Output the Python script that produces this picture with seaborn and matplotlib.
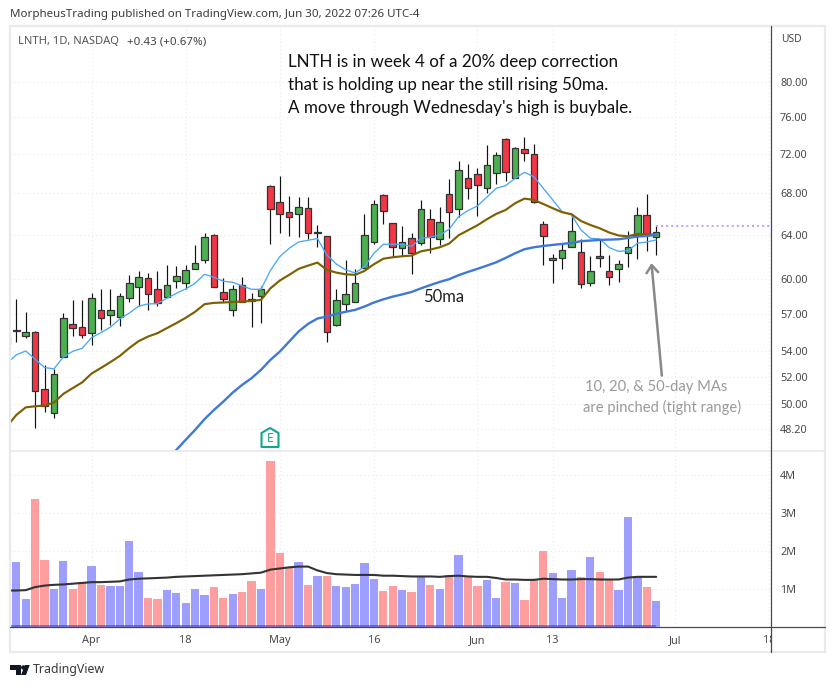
import numpy as np
import pandas as pd
import matplotlib
matplotlib.use("Agg")
import matplotlib.pyplot as plt
from matplotlib.lines import Line2D
from matplotlib.patches import Circle, Polygon, Rectangle
from matplotlib.transforms import Bbox, IdentityTransform
import seaborn as sns

# Daily sessions for LNTH; the first entry sits just off the left edge of the pane.
opens = [54.60, 55.57, 55.19, 55.51, 51.08, 49.32, 53.57, 56.16, 55.92, 55.43,
         57.32, 56.91, 56.74, 58.33, 59.27, 60.06, 59.10, 58.41, 59.80, 59.63,
         60.86, 61.66, 63.95, 58.83, 57.32, 59.45, 58.24, 58.49, 68.70, 67.11,
         66.14, 65.95, 66.53, 64.21, 63.86, 56.08, 57.83, 57.99, 60.95, 63.30,
         67.81, 65.08, 62.75, 63.67, 63.21, 65.46, 63.58, 67.91, 66.42, 69.49,
         69.90, 68.49, 70.01, 73.57, 69.56, 72.51, 71.98, 64.99, 61.66, 61.84,
         62.84, 62.38, 59.63, 62.02, 60.68, 60.86, 62.29, 63.95, 65.85, 63.77]
closes = [55.13, 55.68, 55.51, 50.93, 49.85, 52.21, 56.66, 55.89, 55.27, 58.33,
          56.66, 57.32, 58.49, 59.63, 60.15, 58.66, 57.91, 59.45, 60.24, 60.77,
          61.39, 63.77, 59.27, 58.30, 59.10, 58.05, 58.13, 59.10, 66.42, 65.95,
          65.66, 66.62, 64.14, 64.24, 55.51, 58.16, 58.66, 59.63, 63.95, 66.91,
          66.24, 62.84, 63.30, 62.29, 66.42, 63.77, 65.18, 66.14, 70.32, 68.49,
          68.80, 70.83, 71.87, 70.11, 72.62, 72.08, 67.11, 63.86, 61.84, 62.57,
          64.33, 59.54, 60.68, 61.84, 60.15, 61.30, 62.84, 65.85, 63.95, 64.24]
highs = [55.20, 58.25, 57.19, 55.62, 52.90, 52.59, 57.08, 58.17, 58.17, 58.75,
         59.10, 59.10, 58.75, 60.33, 60.68, 60.50, 60.68, 61.21, 61.12, 61.21,
         63.03, 64.14, 64.05, 60.06, 59.45, 60.15, 58.75, 59.36, 68.80, 69.70,
         67.71, 67.61, 67.61, 64.89, 63.86, 59.10, 61.66, 60.86, 65.95, 67.30,
         67.91, 65.08, 64.80, 64.14, 67.30, 66.42, 66.62, 69.39, 71.25, 70.94,
         70.52, 72.96, 72.19, 73.68, 72.73, 73.79, 73.07, 65.27, 62.20, 63.12,
         65.85, 63.58, 62.05, 63.58, 62.14, 61.66, 64.33, 66.62, 67.91, 64.89]
lows = [54.50, 54.76, 55.03, 48.23, 49.44, 48.96, 53.57, 55.24, 55.08, 54.52,
        55.70, 56.11, 56.05, 58.02, 57.66, 57.38, 57.66, 58.41, 59.21, 59.13,
        60.86, 61.45, 59.27, 58.05, 56.88, 58.05, 55.97, 56.30, 63.18, 64.21,
        63.93, 63.83, 63.58, 62.84, 54.76, 56.05, 57.24, 57.99, 60.95, 63.18,
        65.05, 61.93, 62.02, 60.47, 63.03, 62.35, 63.06, 63.74, 65.72, 67.47,
        65.82, 68.07, 68.93, 69.23, 69.49, 71.32, 67.01, 61.27, 59.68, 60.92,
        62.84, 59.24, 59.42, 61.09, 59.51, 59.77, 61.09, 61.75, 62.47, 62.17]
sma10 = [53.05, 53.70, 54.01, 53.37, 52.72, 52.62, 53.54, 53.98, 54.22, 55.08,
         55.48, 55.92, 56.60, 57.08, 57.66, 57.85, 57.88, 58.33, 58.75, 59.13,
         59.63, 60.41, 60.15, 59.80, 59.71, 59.39, 59.10, 59.10, 60.74, 61.99,
         62.75, 63.33, 63.49, 63.64, 62.14, 61.33, 60.80, 60.53, 61.09, 62.29,
         63.12, 63.12, 63.09, 62.93, 63.67, 63.77, 63.98, 64.52, 65.72, 66.30,
         66.75, 67.61, 68.49, 68.76, 69.49, 70.11, 69.66, 68.49, 67.34, 66.20,
         65.88, 64.46, 63.67, 63.61, 62.81, 62.47, 62.53, 63.21, 63.33, 63.52]
sma20 = [48.37, 49.19, 49.74, 49.82, 49.87, 50.09, 50.73, 51.16, 51.59, 52.26,
         52.69, 53.14, 53.62, 54.24, 54.79, 55.16, 55.43, 55.84, 56.25, 56.69,
         57.19, 57.83, 57.94, 57.97, 58.02, 58.05, 58.11, 58.19, 59.18, 59.86,
         60.36, 60.89, 61.18, 61.45, 60.80, 60.56, 60.41, 60.36, 60.71, 61.30,
         61.80, 61.93, 62.02, 62.08, 62.47, 62.63, 62.84, 63.18, 63.95, 64.42,
         64.89, 65.46, 65.98, 66.36, 67.01, 67.47, 67.34, 66.94, 66.53, 66.14,
         65.95, 65.30, 64.92, 64.61, 64.21, 63.93, 63.86, 64.08, 64.05, 63.99]
# The 50-day average only enters the price range in mid-April.
sma50 = [46.07, 46.74, 47.44, 48.13, 48.89, 49.55, 50.16, 50.83, 51.40, 51.91,
         52.54, 53.31, 53.96, 54.76, 55.57, 56.19, 56.63, 56.80, 57.02, 57.19,
         57.35, 57.63, 57.97, 58.24, 58.47, 58.66, 58.87, 59.18, 59.47, 59.74,
         59.98, 60.33, 60.62, 60.89, 61.18, 61.48, 61.87, 62.29, 62.66, 62.84,
         62.96, 63.06, 63.15, 63.24, 63.40, 63.46, 63.52, 63.55, 63.58, 63.70,
         63.83, 63.89, 63.99]
volume = [1.25, 1.72, 0.75, 3.38, 1.77, 1.01, 1.75, 1.01, 1.19, 1.61,
          1.11, 1.09, 1.09, 2.27, 1.46, 0.77, 0.75, 0.98, 0.90, 0.64,
          1.01, 0.85, 1.04, 0.77, 0.88, 0.93, 1.22, 1.01, 4.38, 1.96,
          1.59, 1.72, 1.11, 1.35, 1.35, 1.09, 1.04, 1.14, 1.69, 1.27,
          0.96, 1.09, 0.98, 0.93, 1.35, 1.11, 1.01, 1.38, 1.90, 1.35,
          1.09, 1.25, 0.77, 1.19, 1.17, 0.72, 1.25, 2.01, 1.43, 0.77,
          1.51, 1.32, 1.85, 1.46, 1.25, 0.98, 2.90, 1.35, 1.04, 0.69]
volume_ma = [0.96, 0.96, 0.97, 1.05, 1.09, 1.11, 1.12, 1.14, 1.16, 1.18,
             1.18, 1.19, 1.20, 1.25, 1.27, 1.28, 1.29, 1.30, 1.32, 1.33,
             1.34, 1.35, 1.36, 1.37, 1.38, 1.39, 1.41, 1.43, 1.51, 1.54,
             1.57, 1.59, 1.59, 1.49, 1.42, 1.39, 1.38, 1.37, 1.37, 1.37,
             1.35, 1.35, 1.34, 1.33, 1.33, 1.33, 1.32, 1.34, 1.35, 1.33,
             1.32, 1.32, 1.29, 1.25, 1.25, 1.24, 1.24, 1.27, 1.26, 1.25,
             1.25, 1.26, 1.26, 1.25, 1.25, 1.25, 1.30, 1.32, 1.32, 1.32]

price_ticks = [80, 76, 72, 68, 64, 60, 57, 54, 52, 50, 48.2]
volume_ticks = [1, 2, 3, 4]
volume_tick_labels = ["1M", "2M", "3M", "4M"]
date_ticks = [8, 18, 28, 38, 49, 57, 70, 80]
date_labels = ["Apr", "18", "May", "16", "Jun", "13", "Jul", "18"]
pending_level = 64.84
volume_floor = 0.06

W, H = 835, 688
UI_FONT = ["Noto Sans", "DejaVu Sans"]
NOTE_FONT = ["Lato", "DejaVu Sans"]
BORDER = "#e9e9f0"
AXIS = "#4a4a4a"
TICK_TEXT = "#4a4a4a"


def fx(px):
    return px / W


def fy(py):
    return 1 - py / H


sns.set_theme(style="white")
plt.rcParams["font.family"] = UI_FONT

sessions = np.arange(-1, len(opens) - 1)
o, c, h, l = map(np.array, (opens, closes, highs, lows))
rising = c >= o

fig = plt.figure(figsize=(W / 100, H / 100), dpi=100, facecolor="white")
ax_p = fig.add_axes([fx(10), fy(451), 761 / W, 425 / H])
ax_v = fig.add_axes([fx(10), fy(627), 761 / W, 176 / H], sharex=ax_p)

# Price pane: candles plus the three simple moving averages.
ax_p.set_yscale("log")
ax_p.vlines(sessions, l, h, color="#111111", linewidth=0.85, zorder=2)
ax_p.bar(sessions, np.abs(c - o), bottom=np.minimum(o, c), width=0.7,
         color=np.where(rising, "#4caf50", "#f23645"),
         edgecolor="#333333", linewidth=0.9, zorder=3)
sns.lineplot(x=sessions, y=sma10, ax=ax_p, color="#4aa8f5", linewidth=0.95,
             estimator=None, zorder=4)
sns.lineplot(x=sessions, y=sma20, ax=ax_p, color="#7f6000", linewidth=1.55,
             estimator=None, zorder=5)
sns.lineplot(x=sessions[-len(sma50):], y=sma50, ax=ax_p, color="#3f78d8",
             linewidth=1.7, estimator=None, zorder=6)
ax_p.hlines(pending_level, sessions[-1], 80.2, color="#d596ff", linewidth=1.4,
            linestyles=(0, (1, 1.6)), zorder=2)

ax_p.set_ylim(46.67, 86.81)
ax_p.set_yticks(price_ticks)
ax_p.set_yticklabels([f"{t:.2f}" for t in price_ticks])
ax_p.yaxis.set_minor_locator(matplotlib.ticker.NullLocator())
ax_p.yaxis.set_minor_formatter(matplotlib.ticker.NullFormatter())
ax_p.yaxis.tick_right()

ax_p.annotate("", xy=(67.5, 61.4), xytext=(68.6, 52.1), zorder=7,
              arrowprops=dict(arrowstyle="->,head_length=0.45,head_width=0.35",
                              color="#888888", lw=1.8, shrinkA=0, shrinkB=0))

# Volume pane: bars coloured by session direction, with their average on top.
frame = pd.DataFrame({
    "session": sessions,
    "volume": volume,
    "side": np.where(rising, "up", "down"),
})
sns.barplot(data=frame, x="session", y="volume", hue="side", ax=ax_v,
            palette={"up": "#9e9eff", "down": "#ff9e9e"}, native_scale=True,
            dodge=False, width=0.88, linewidth=0, saturation=1, legend=False,
            zorder=2)
ax_v.fill_between(sessions, 0, volume_floor, color="#5858c4", alpha=0.7,
                  linewidth=0, zorder=3)
sns.lineplot(x=sessions, y=volume_ma, ax=ax_v, color="#333333", linewidth=1.5,
             estimator=None, zorder=4)
ax_v.set_ylim(0, 176 / 38)
ax_v.set_yticks(volume_ticks)
ax_v.set_yticklabels(volume_tick_labels)
ax_v.yaxis.tick_right()
ax_v.set_xlabel("")
ax_v.set_ylabel("")

ax_v.set_xlim(-0.67, 80.2)
ax_v.set_xticks(date_ticks)
ax_v.set_xticklabels(date_labels)

for ax in (ax_p, ax_v):
    ax.set_facecolor("white")
    ax.grid(True, axis="both", color="#ebebf0", linestyle=(0, (1, 2.5)),
            linewidth=0.8, zorder=0)
    ax.set_axisbelow(True)
    for side in ax.spines.values():
        side.set_visible(False)
    ax.tick_params(axis="y", length=0, pad=6.5, labelsize=7.8,
                   labelcolor=TICK_TEXT)
ax_p.tick_params(axis="x", length=0, labelbottom=False)
ax_v.tick_params(axis="x", length=0, pad=6, labelsize=7.9, labelcolor=TICK_TEXT)

# The trailing date label is cut off where the price scale begins.
clip_area = Bbox([[0, 0], [771, H]])
for label in ax_v.get_xticklabels():
    label.set_clip_box(clip_area)
    label.set_clip_on(True)

# Frame and scale lines around the panes.
fig.add_artist(Rectangle((fx(10), fy(652)), 815 / W, 626 / H, fill=False,
                         edgecolor=BORDER, linewidth=1.6,
                         transform=fig.transFigure))
fig.add_artist(Line2D([fx(10), fx(825)], [fy(451), fy(451)], color=BORDER,
                      linewidth=1.3))
fig.add_artist(Line2D([fx(771), fx(771)], [fy(26), fy(652)], color=AXIS,
                      linewidth=0.9))
fig.add_artist(Line2D([fx(10), fx(825)], [fy(627), fy(627)], color=AXIS,
                      linewidth=0.9))

# Header and scale captions.
fig.text(fx(10), fy(15), "MorpheusTrading published on TradingView.com, Jun 30, 2022 07:26 UTC-4",
         fontsize=8.3, color="#3c3c3c", va="center", family=UI_FONT)
fig.text(fx(18), fy(42), "LNTH, 1D, NASDAQ", fontsize=8.05, color="#555555",
         va="center", family=UI_FONT)
fig.text(fx(127), fy(42), "+0.43 (+0.67%)", fontsize=8.3, color="#444444",
         va="center", family=UI_FONT)
fig.text(fx(781), fy(39), "USD", fontsize=7.4, color=TICK_TEXT, va="center",
         family=UI_FONT)

# Written notes on the chart.
note_lines = ["LNTH is in week 4 of a 20% deep correction",
              "that is holding up near the still rising 50ma.",
              "A move through Wednesday's high is buybale."]
for line, py in zip(note_lines, (62, 85, 108)):
    fig.text(fx(288.5), fy(py), line, fontsize=12.25, color="#111111", va="center",
             family=NOTE_FONT)
fig.text(fx(423), fy(297), "50ma", fontsize=12, color="#222222", va="center",
         family=NOTE_FONT)
fig.text(fx(656), fy(387), "10, 20, & 50-day MAs", fontsize=10.6, color="#9a9a9a",
         va="center", ha="center", family=NOTE_FONT)
fig.text(fx(662), fy(407), "are pinched (tight range)", fontsize=10.6,
         color="#9a9a9a", va="center", ha="center", family=NOTE_FONT)

# Earnings marker in pixel space, above the candles.
TEAL = "#14a58a"
house = [(261.5, 447), (278.5, 447), (278.5, 433), (270, 428), (261.5, 433)]
fig.add_artist(Polygon([(x, H - y) for x, y in house], closed=True,
                       facecolor="white", edgecolor=TEAL, linewidth=1.5,
                       joinstyle="round", transform=IdentityTransform()))
fig.text(fx(270), fy(438.5), "E", fontsize=8.6, color=TEAL, va="center",
         ha="center", family=UI_FONT)

# Footer wordmark.
mark = "#131722"
stem = [(10, 665), (21, 665), (21, 675), (16, 675), (16, 670), (10, 670)]
slash = [(25, 665), (29.7, 665), (26, 675), (21, 675)]
for shape in (stem, slash):
    fig.add_artist(Polygon([(x, H - y) for x, y in shape], closed=True,
                           facecolor=mark, edgecolor="none",
                           transform=IdentityTransform()))
fig.add_artist(Circle((23.3, H - 667.5), 2.2, facecolor=mark, edgecolor="none",
                      transform=IdentityTransform()))
fig.text(fx(33), fy(670), "TradingView", fontsize=8.9, color="#3a3a3a",
         va="center", family=UI_FONT)

fig.savefig("out.png", dpi=100, facecolor="white")
